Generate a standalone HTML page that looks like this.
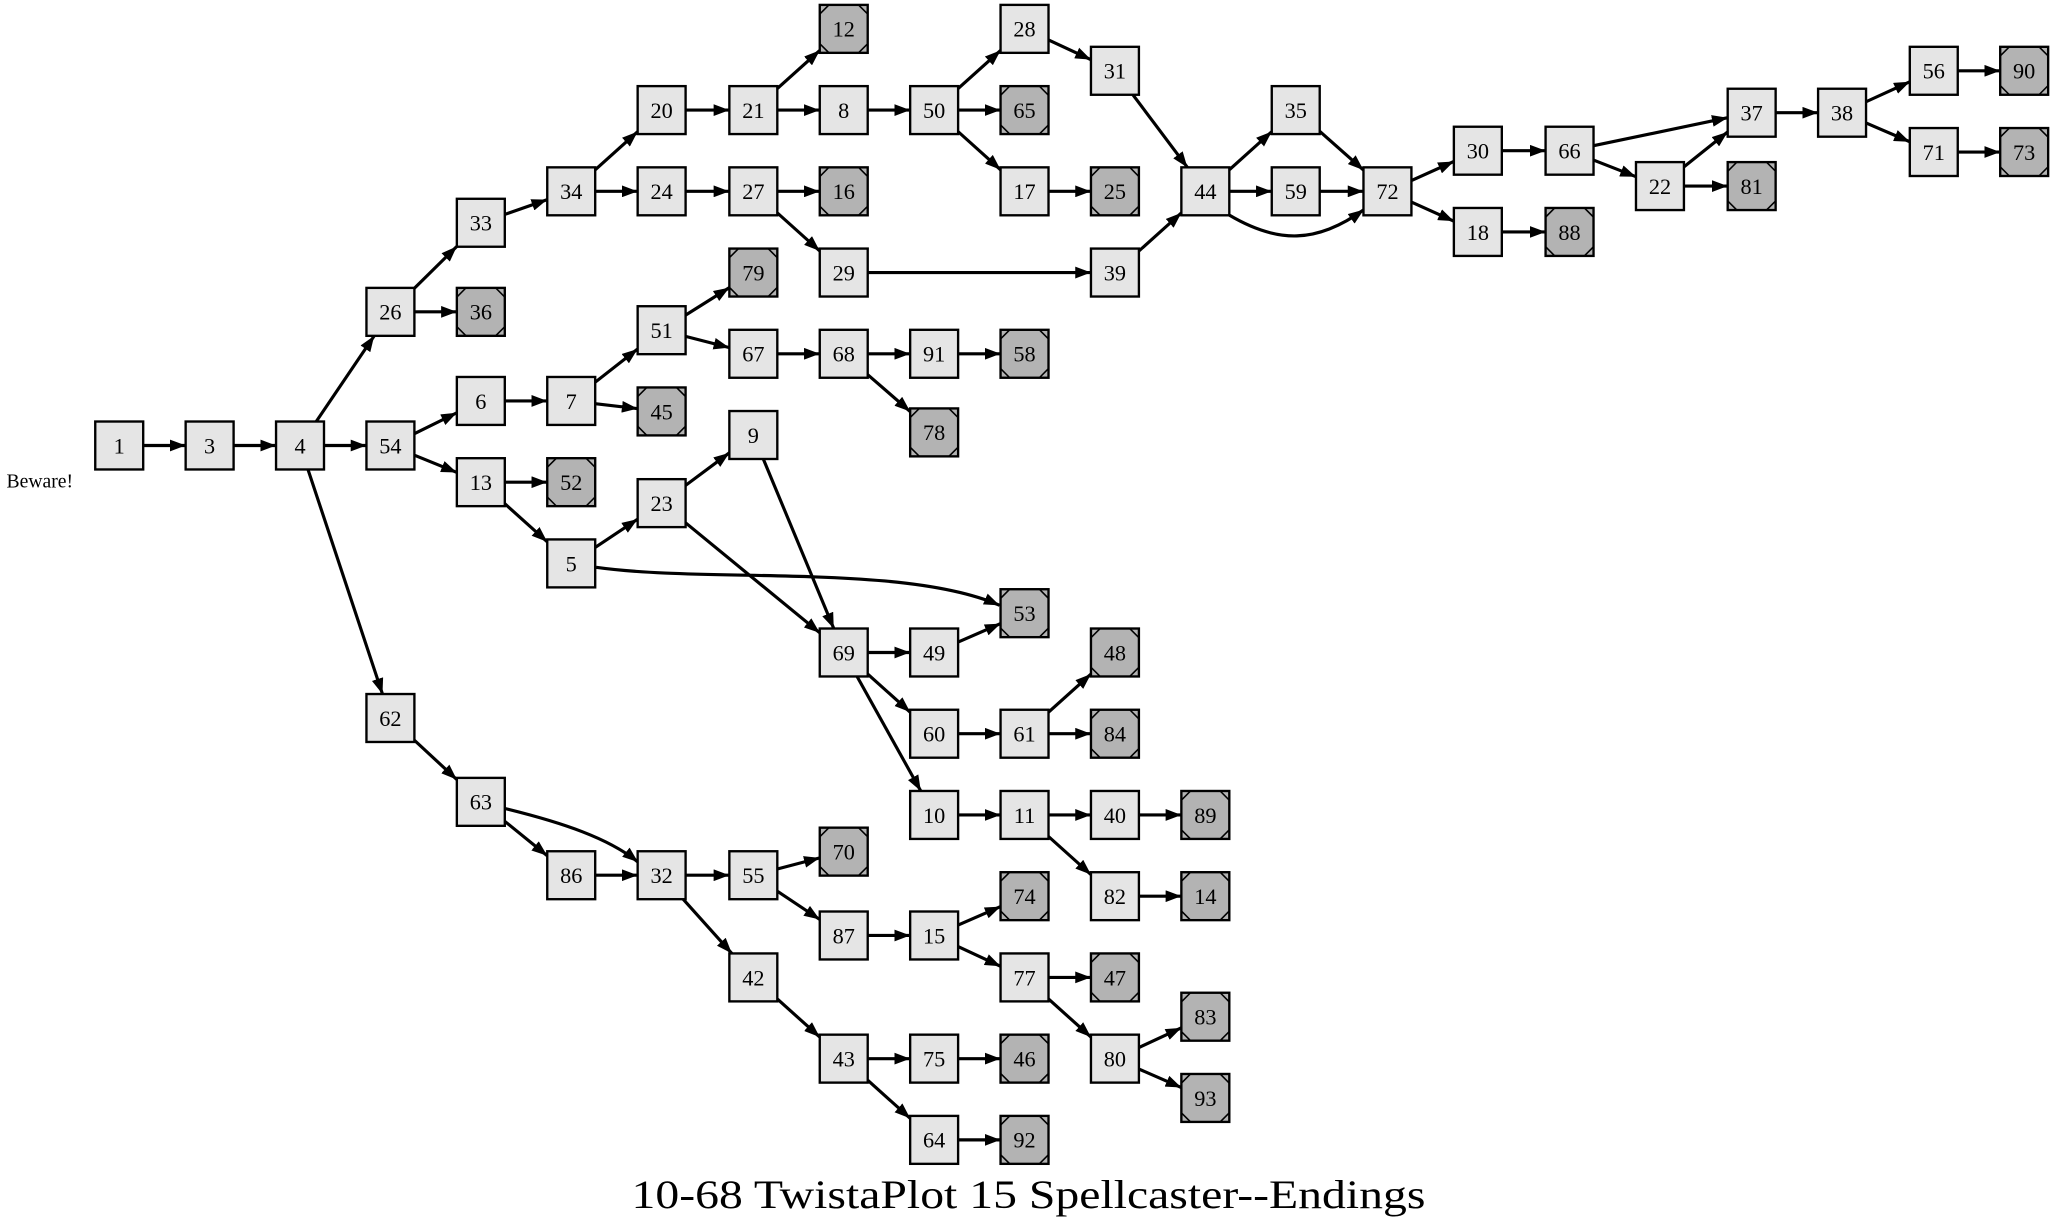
<!DOCTYPE html>
<html><head><meta charset="utf-8"><style>
html,body{margin:0;padding:0;background:#fff;}
svg{display:block;}
text{font-family:"Liberation Serif","Times New Roman",serif;}
</style></head><body>
<svg id="g" width="2053" height="1229" viewBox="0 0 1567 938" xmlns="http://www.w3.org/2000/svg">
<defs><marker id="a" markerWidth="12" markerHeight="9" refX="12" refY="4.5" orient="auto" markerUnits="userSpaceOnUse"><path d="M0,0 L12,4.5 L0,9 z" fill="#000"/></marker></defs>
<rect width="1567" height="938" fill="#fff"/>
<g id="edges" stroke="#000" stroke-width="2.4" fill="none">
<path d="M455,433 C540,445 690,430 763,462" marker-end="url(#a)"/>
<path d="M938,164 C975,186 1005,186 1041,160" marker-end="url(#a)"/>
<path d="M385,617 C430,628 465,640 487,658" marker-end="url(#a)"/>
</g>
<g id="nodes"></g>
<text x="5" y="372" font-size="15" font-family="'Liberation Serif','Times New Roman',serif">Beware!</text>
<text x="482" y="922" font-size="31" font-family="'Liberation Serif','Times New Roman',serif" textLength="606" lengthAdjust="spacingAndGlyphs">10-68 TwistaPlot 15 Spellcaster--Endings</text>
</svg>
<script>
var N={1:[91,340],3:[160,340],4:[229,340],54:[298,340],26:[298,238],62:[298,548],33:[367,170],36:[367,238,1],6:[367,306],13:[367,368],34:[436,146],7:[436,306],45:[505,314,1],52:[436,368,1],5:[436,430],20:[505,84],24:[505,146],51:[505,252],23:[505,384],21:[575,84],27:[575,146],67:[575,270],9:[575,332],12:[644,22,1],8:[644,84],16:[644,146,1],29:[644,208],79:[575,208,1],68:[644,270],69:[644,498],50:[713,84],91:[713,270],78:[713,330,1],49:[713,498],60:[713,560],10:[713,622],28:[782,22],65:[782,84,1],17:[782,146],58:[782,270,1],53:[782,468,1],61:[782,560],11:[782,622],31:[851,54],25:[851,146,1],39:[851,208],48:[851,498,1],84:[851,560,1],40:[851,622],82:[851,684],44:[920,146],89:[920,622,1],14:[920,684,1],35:[989,84],59:[989,146],72:[1059,146],30:[1128,115],18:[1128,177],66:[1198,115],88:[1198,177,1],22:[1267,142],37:[1337,86],81:[1337,142,1],38:[1406,86],56:[1476,54],71:[1476,116],90:[1545,54,1],73:[1545,116,1],63:[367,612],86:[436,668],32:[505,668],55:[575,668],70:[644,650,1],42:[575,746],87:[644,714],15:[713,714],74:[782,684,1],77:[782,746],47:[851,746,1],80:[851,808],83:[920,776,1],93:[920,838,1],43:[644,808],75:[713,808],46:[782,808,1],64:[713,870],92:[782,870,1]};
var E="1-3,3-4,4-54,4-26,4-62,26-33,26-36,54-6,54-13,33-34,34-20,34-24,6-7,7-51,7-45,13-52,13-5,20-21,24-27,51-79,51-67,5-23,23-9,23-69,21-12,21-8,27-16,27-29,67-68,9-69,8-50,29-39,68-91,68-78,69-49,69-60,69-10,50-28,50-65,50-17,91-58,49-53,60-61,10-11,28-31,17-25,39-44,61-48,61-84,11-40,11-82,31-44,40-89,82-14,44-35,44-59,35-72,59-72,72-30,72-18,30-66,18-88,66-37,66-22,22-37,22-81,37-38,38-56,38-71,56-90,71-73,62-63,63-86,86-32,32-55,32-42,55-70,55-87,87-15,15-74,15-77,77-47,77-80,80-83,80-93,42-43,43-75,43-64,75-46,64-92".split(",");
var h=18.3,ns="http://www.w3.org/2000/svg",eg=document.getElementById("edges"),ng=document.getElementById("nodes");
function clip(dx,dy){return Math.min(h/Math.abs(dx||1e-9),h/Math.abs(dy||1e-9));}
E.forEach(function(s){var p=s.split("-"),A=N[p[0]],B=N[p[1]];var dx=B[0]-A[0],dy=B[1]-A[1];var t=clip(dx,dy);
var l=document.createElementNS(ns,"line");l.setAttribute("x1",A[0]+dx*t);l.setAttribute("y1",A[1]+dy*t);l.setAttribute("x2",B[0]-dx*t);l.setAttribute("y2",B[1]-dy*t);l.setAttribute("marker-end","url(#a)");eg.appendChild(l);});
var html="";
for(var k in N){var x=N[k][0],y=N[k][1],term=N[k][2];
html+='<rect x="'+(x-h)+'" y="'+(y-h)+'" width="'+2*h+'" height="'+2*h+'" fill="'+(term?"#b3b3b3":"#e5e5e5")+'" stroke="#000" stroke-width="1.8"/>';
if(term){var pts=[[x-h+7,y-h],[x+h-7,y-h],[x+h,y-h+7],[x+h,y+h-7],[x+h-7,y+h],[x-h+7,y+h],[x-h,y+h-7],[x-h,y-h+7]];html+='<polygon points="'+pts.map(function(q){return q.join(",")}).join(" ")+'" fill="none" stroke="#000" stroke-width="1.2"/>';}
html+='<text x="'+x+'" y="'+(y+6)+'" font-size="17" text-anchor="middle" font-family="\'Liberation Serif\',\'Times New Roman\',serif">'+k+'</text>';}
ng.innerHTML=html;
</script>
</body></html>
